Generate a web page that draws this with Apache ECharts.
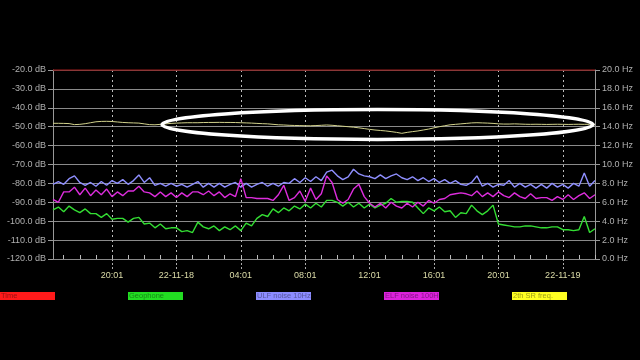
<!DOCTYPE html>
<html><head><meta charset="utf-8">
<script src="https://cdn.jsdelivr.net/npm/echarts@6/dist/echarts.min.js"></script>
<style>html,body{margin:0;padding:0;background:#000;}#c{width:640px;height:360px;}</style>
</head><body><div id="c"></div>
<script>
// 20-minute samples starting 22-11-17 16:21
const startTime = '2022-11-17T16:21:00';
const stepMinutes = 20;
const sampleCount = 102;

const timeLevel = -20; // "Time" trace sits at the top of the scale

const ulfNoise = [-80.5,-79,-80.5,-77.5,-76,-79.5,-81,-79.5,-81.5,-79,-81,-78.5,-80,-78,-80.5,-78.5,-75.5,-79.5,-77,-81,-80,-81.5,-80,-81.5,-80.5,-82,
 -80.5,-79,-82,-80,-82,-80,-82,-80.5,-79.5,-82,-80,-82,-80.5,-79.5,-81.5,-80,-81.5,-79.5,-80,-77.5,-79.5,-77,-79,-76.5,-78.5,
 -74,-73,-76,-78,-76.5,-72.5,-75,-76,-76.5,-77.5,-75.5,-77.5,-76,-75,-77,-78,-76.5,-78.5,-77,-79,-77.5,-79.5,-78,-80,-78.5,-80.5,
 -81,-79.5,-76,-81.5,-80,-82,-80.5,-81,-78.5,-82,-80,-82,-80.5,-82.5,-80.5,-82.5,-80,-82,-80.5,-82.5,-80,-81.5,-74.5,-81.5,-78.5];

const elfNoise = [-88.5,-90,-84.5,-84.5,-82,-86,-82.5,-86.5,-83.5,-86,-83,-87,-84.5,-86.5,-84,-84,-81.5,-84.5,-85,-87,-84.5,-87,-85,-87.5,-85,-87,
 -84.5,-84.5,-86,-84,-86.5,-84.5,-87.5,-85.5,-87,-77.5,-87.5,-87.5,-88,-88,-88,-89,-86,-81,-89,-87.5,-84,-89.5,-82.5,-88.5,-85.5,
 -76,-79.5,-88.5,-90.5,-88.5,-83,-80.5,-87,-90.5,-92.5,-90.5,-93,-90,-92,-93,-90.5,-92.5,-90,-92,-89,-90.5,-88.5,-88,-86,-85.5,-85,
 -85.5,-86.5,-84,-87,-85,-87,-84.5,-86.5,-87.5,-85,-87,-88,-85.5,-88,-87.5,-87.5,-89,-87,-88.5,-86,-88.5,-86.5,-85,-88,-86];

const geophone = [-94,-92.5,-95,-92,-94,-95.5,-93.5,-96,-96,-98,-96,-99,-98.5,-98.5,-100.5,-98.5,-98,-101.5,-101,-103.5,-101.5,-104,-103.5,-103.5,-105.5,-105,
 -106,-100.5,-103,-104,-102.5,-105,-103,-104.5,-102.5,-105,-101,-102.5,-98.5,-96.5,-97.5,-93.5,-95.5,-93,-94.5,-92,-93.5,-91,-93,-90.5,-92.5,
 -89,-89,-90,-92,-90,-92.5,-90.5,-93,-91,-93,-91.5,-90.5,-88,-90,-89.5,-89.5,-90,-93,-96,-93,-94.5,-92.5,-95,-94.5,-98,-95.5,
 -96,-91.5,-94.5,-96.5,-94.5,-91.5,-101.5,-102,-102.5,-103,-103,-102.5,-102.5,-103,-103.5,-103.5,-103,-103,-104.5,-104.5,-105,-104.5,-97.5,-106,-104];

const srFreq = [14.36,14.36,14.35,14.33,14.22,14.25,14.32,14.42,14.52,14.56,14.57,14.55,14.5,14.45,14.42,14.4,14.38,14.3,14.22,14.2,14.25,14.3,14.35,14.38,14.4,14.42,
 14.42,14.42,14.44,14.45,14.45,14.46,14.45,14.45,14.44,14.42,14.4,14.38,14.35,14.32,14.3,14.25,14.2,14.18,14.15,14.13,14.12,14.1,14.1,14.12,14.15,
 14.18,14.15,14.1,14.05,14.0,13.95,13.88,13.8,13.72,13.65,13.6,13.55,13.48,13.4,13.3,13.4,13.48,13.55,13.65,13.75,13.88,14.0,14.1,14.2,14.25,14.3,
 14.35,14.4,14.42,14.4,14.38,14.35,14.3,14.28,14.28,14.3,14.28,14.26,14.25,14.26,14.25,14.24,14.25,14.26,14.25,14.24,14.25,14.26,14.25,14.26,14.25];

const seriesNames = ['Time','Geophone','ULF noise 10Hz','ELF noise 100Hz','2th SR freq.'];
const seriesColors = ['#ff1a1a','#22dd22','#8c8cff','#dd22dd','#ffff22'];
const lineColors = ['#8a1c1c','#33dd33','#8f8fff','#dd2ddd','#d2d28c'];

const pad = n => String(n).padStart(2,'0');
const categories = [];
{
  const t0 = new Date(startTime).getTime();
  for (let i = 0; i < sampleCount; i++) {
    const d = new Date(t0 + i*stepMinutes*60000);
    categories.push(String(d.getFullYear()).slice(2)+'-'+pad(d.getMonth()+1)+'-'+pad(d.getDate())+' '+pad(d.getHours())+':'+pad(d.getMinutes()));
  }
}
const isLabelTick = i => (i - 11) % 12 === 0 && i >= 11;
const isHourTick = i => i % 3 === 2;

const chart = echarts.init(document.getElementById('c'), null, {renderer:'canvas'});
const font = 'Liberation Sans, Arial, sans-serif';

const legendGraphics = [];
seriesNames.forEach((n, k) => {
  legendGraphics.push({type:'rect', left: k*128, top: 292, shape:{width:55, height:8}, style:{fill: seriesColors[k]}, silent:true});
  legendGraphics.push({type:'text', left: k*128+1, top: 292, style:{text:n, fill:'rgba(0,0,0,0.4)', font:'7.5px '+font}, silent:true});
});

const lineSeries = (name, data, color, yIdx, width) => ({
  name, type:'line', data, yAxisIndex:yIdx, symbol:'none', animation:false,
  lineStyle:{color, width}, itemStyle:{color}
});

chart.setOption({
  backgroundColor:'#000',
  animation:false,
  grid:{left:53, right:45, top:70, bottom:101, containLabel:false, outerBoundsMode:'none'},
  xAxis:[{
    type:'category', data:categories, boundaryGap:false,
    axisLine:{show:true, lineStyle:{color:'#888'}},
    axisTick:{show:true, inside:false, length:10, interval:(i)=>isLabelTick(i), lineStyle:{color:'#aaa', type:[2,2]}},
    axisLabel:{interval:(i)=>isLabelTick(i), color:'#dcdca8', fontSize:9, fontFamily:font, margin:12,
      formatter:(v)=>{const [dt, tm] = v.split(' '); return tm === '00:01' ? dt : tm;}},
    splitLine:{show:true, interval:(i)=>isLabelTick(i), lineStyle:{color:'#bbb', type:[2,3], width:1}}
  },{
    type:'category', data:categories, boundaryGap:false, position:'bottom',
    axisLine:{show:false}, axisLabel:{show:false}, splitLine:{show:false},
    axisTick:{show:true, inside:true, length:4, interval:(i)=>isHourTick(i), lineStyle:{color:'#bbb'}}
  }],
  yAxis:[{
    type:'value', min:-120, max:-20, interval:10, position:'left',
    name:'dBm (radio signals)', nameLocation:'middle', nameGap:45, nameRotate:90,
    nameTextStyle:{color:'#999', fontSize:8, fontFamily:font},
    axisLine:{show:true, lineStyle:{color:'#999'}},
    axisTick:{show:true, length:5, lineStyle:{color:'#999'}},
    axisLabel:{color:'#b0b0b0', fontSize:9, fontFamily:font, margin:7, formatter:(v)=>v.toFixed(1)+' dB'},
    splitLine:{show:true, lineStyle:{color:'#8a8a8a', width:1}}
  },{
    type:'value', min:0, max:20, interval:2, position:'right',
    name:'Hz (2th Schumann res. freq.)', nameLocation:'middle', nameGap:37, nameRotate:90,
    nameTextStyle:{color:'#999', fontSize:8, fontFamily:font},
    axisLine:{show:true, lineStyle:{color:'#999'}},
    axisTick:{show:true, length:5, lineStyle:{color:'#999'}},
    axisLabel:{color:'#b0b0b0', fontSize:9, fontFamily:font, margin:7, formatter:(v)=>v.toFixed(1)+' Hz'},
    splitLine:{show:false}
  }],
  series:[
    lineSeries(seriesNames[0], categories.map(()=>timeLevel), lineColors[0], 0, 1.5),
    lineSeries(seriesNames[1], geophone, lineColors[1], 0, 1.4),
    lineSeries(seriesNames[2], ulfNoise, lineColors[2], 0, 1.4),
    lineSeries(seriesNames[3], elfNoise, lineColors[3], 0, 1.4),
    lineSeries(seriesNames[4], srFreq, lineColors[4], 1, 1)
  ],
  graphic:[
    {type:'ellipse', shape:{cx:377.5, cy:124.5, rx:215.5, ry:15}, style:{fill:null, stroke:'#fff', lineWidth:3.5}, silent:true, z:100},
    ...legendGraphics
  ]
});
</script></body></html>
